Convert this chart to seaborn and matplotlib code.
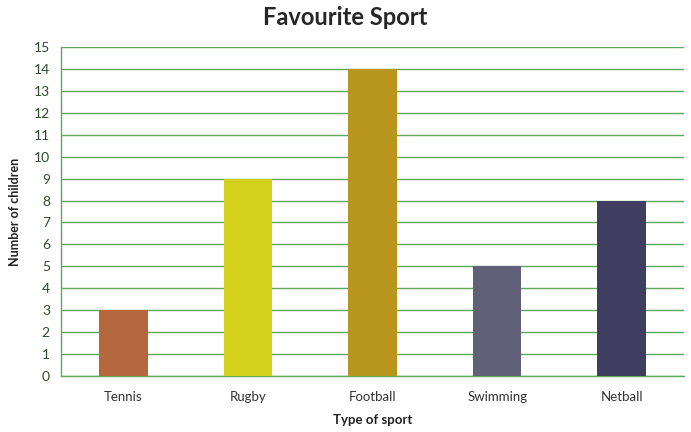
import pandas as pd
from matplotlib import pyplot as plt
import seaborn as sns
import numpy as np

sports = ['Tennis', 'Rugby', 'Football', 'Swimming', 'Netball']
children = [3, 9, 14, 5, 8]
bar_colors = ['#B5673E', '#D4D11C', '#B8961D', '#626079', '#3F3D60']
y_ticks = list(range(0, 16))

GREEN = '#5FA85F'
TEXT = '#2E4A2E'


def execute():
    data = pd.DataFrame({'sport': sports, 'children': children})

    sns.set_style('white')
    plt.rcParams['font.family'] = ['Lato', 'DejaVu Sans']

    fig = plt.figure(figsize=(6.91, 4.32), dpi=100)
    ax = fig.add_axes([61 / 691, 56 / 432, 623 / 691, 329 / 432])
    sns.barplot(x='sport', y='children', data=data, hue='sport',
                palette=bar_colors, legend=False, width=0.39,
                saturation=1, linewidth=0, ax=ax, zorder=3)

    ax.set_ylim(0, 15)
    ax.set_xlim(-0.5, len(sports) - 0.5)
    ax.set_yticks(y_ticks)
    ax.yaxis.grid(True, color=GREEN, linewidth=1.0, zorder=0)
    ax.set_axisbelow(True)

    for side in ['top', 'right']:
        ax.spines[side].set_visible(False)
    for side in ['left', 'bottom']:
        ax.spines[side].set_color(GREEN)
        ax.spines[side].set_linewidth(1.0)

    ax.set_xticks(np.arange(-0.5, len(sports)), minor=True)
    ax.tick_params(axis='x', which='major', length=0, pad=11,
                   labelsize=9.5, labelcolor='#333333')
    ax.tick_params(axis='x', which='minor', length=4, color=GREEN,
                   direction='out')
    ax.tick_params(axis='y', length=4, color=GREEN, direction='out',
                   labelsize=10, labelcolor=TEXT, pad=4)

    ax.set_xlabel('Type of sport', fontsize=9.5, fontweight='bold',
                  color='#222222', labelpad=8)
    ax.set_ylabel('Number of children', fontsize=9, fontweight='bold',
                  color='#222222', labelpad=9)
    fig.suptitle('Favourite Sport', fontsize=17, fontweight='bold',
                 x=0.5, y=0.985)

    fig.savefig('out.png', dpi=100)


if __name__ == '__main__':
    execute()
